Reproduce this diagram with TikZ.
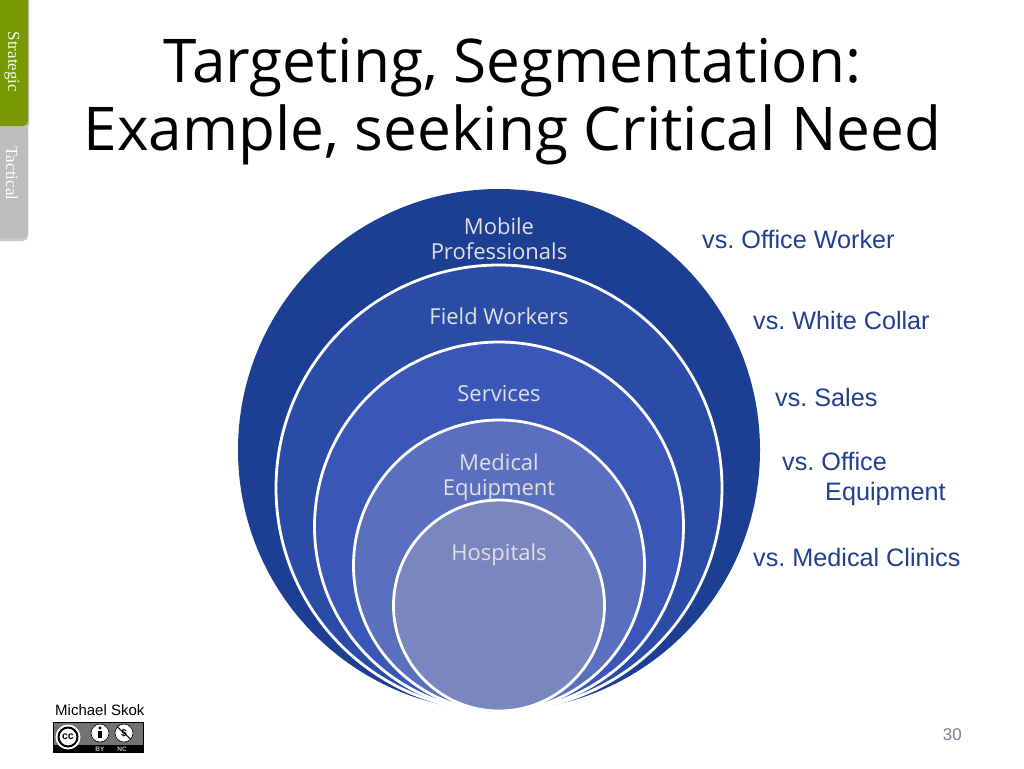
\documentclass[tikz,border=0pt]{standalone}
\usepackage{fontspec}
\setmainfont{Liberation Sans}
\newfontfamily\titlefont{Open Sans}
\newfontfamily\tabfont{Liberation Serif}
\definecolor{cA}{HTML}{1C3F94}
\definecolor{cB}{HTML}{2B4CA6}
\definecolor{cC}{HTML}{3A57B8}
\definecolor{cD}{HTML}{5A6FBE}
\definecolor{cE}{HTML}{7A86C0}
\definecolor{txt}{HTML}{1F3F8F}
\definecolor{tabgreen}{HTML}{789904}
\definecolor{tabgrey}{HTML}{BDBDBD}
\definecolor{pagegrey}{HTML}{75828F}
\frenchspacing
\tikzset{
  x=1pt,y=-1pt,
  ring/.style={draw=white,line width=2.8pt},
  ringtext/.style={text=white!88!black,font=\titlefont\fontsize{22}{25}\selectfont,align=center,inner sep=0pt},
  side/.style={text=txt,font=\fontsize{25.2}{30}\selectfont,anchor=base west,inner sep=0pt},
  tab/.style={rounded corners=5pt},
  tabtext/.style={font=\tabfont\fontsize{17}{17}\selectfont,rotate=-90,inner sep=0pt},
  titletext/.style={font=\titlefont\fontsize{60.3}{68}\selectfont,align=center,inner sep=0pt}
}
\begin{document}
\begin{tikzpicture}
\useasboundingbox[fill=white] (0,0) rectangle (1024,768);
% tabs
\fill[black!22] (-8,125) [rounded corners=5pt] -- (-8,241) -- (28,241) -- (28,125) [sharp corners] -- cycle;
\fill[tabgrey,tab] (-8,120) rectangle (28,238);
\fill[black!25] (-8,0) [rounded corners=5pt] -- (-8,129) -- (29,129) [sharp corners] -- (29,0) -- cycle;
\fill[tabgreen,tab] (-8,-8) rectangle (28,126);
\node[tabtext,text=white!90!green] (tabS) at (12,62) {Strategic};
\node[tabtext,text=white] (tabT) at (12,173.5) {Tactical};
% title
\node[titletext] (title) at (512.5,102) {Targeting, Segmentation:\\Example, seeking Critical Need};
% circles
\fill[cA] (499,450) circle (261);
\draw[ring,fill=cB] (499,488) circle (223);
\draw[ring,fill=cC] (499,526.5) circle (184.5);
\draw[ring,fill=cD] (499,565.5) circle (145.5);
\draw[ring,fill=cE] (499,605.5) circle (105.5);
\node[ringtext] (l1) at (499,239) {Mobile\\Professionals};
\node[ringtext] (l2) at (499,316) {Field Workers};
\node[ringtext] (l3) at (499,394) {Services};
\node[ringtext] (l4) at (499,477.5) {Medical\\Equipment};
\node[ringtext] (l5) at (499,554.5) {Hospitals};
% side labels
\node[side] (s1) at (702,248) {vs. Office Worker};
\node[side] (s2) at (753,329) {vs. White Collar};
\node[side] (s3) at (775,406) {vs. Sales};
\node[side] (s4) at (782,470) {vs. Office};
\node[side] (s4b) at (825,500) {Equipment};
\node[side] (s5) at (753,566) {vs. Medical Clinics};
% credit
\node[font=\fontsize{15}{16}\selectfont,anchor=base west,inner sep=0pt] (auth) at (55,715) {Michael Skok};
\fill[black] (53,722) rectangle (144,753);
\fill[black!55] (54,723) rectangle (143,745);
\fill[white] (68,737) circle (12.5);
\draw[black,line width=2pt] (68,737) circle (9.5);
\node[font=\bfseries\fontsize{10.5}{10}\selectfont,inner sep=0pt] (cc) at (68,736.5) {cc};
\draw[black,fill=white,line width=0.6pt] (100,733) circle (9);
\fill[black] (100,728) circle (1.7);
\fill[black] (97.8,730.5) rectangle (102.2,738);
\draw[black,fill=white,line width=0.6pt] (124,733) circle (9);
\node[font=\bfseries\fontsize{10}{10}\selectfont,inner sep=0pt,text=black] (sdollar) at (124,733) {\$};
\draw[black,line width=1pt] (117.5,727) -- (130.5,739);
\node[font=\bfseries\fontsize{6.5}{7}\selectfont,text=white!75!black,inner sep=0pt] (by) at (100,749) {BY};
\node[font=\bfseries\fontsize{6.5}{7}\selectfont,text=white!75!black,inner sep=0pt] (nc) at (122,749) {NC};
% page
\node[font=\fontsize{17}{20}\selectfont,text=pagegrey,anchor=base east,inner sep=0pt] (pg) at (962,740) {30};
\end{tikzpicture}
\end{document}
